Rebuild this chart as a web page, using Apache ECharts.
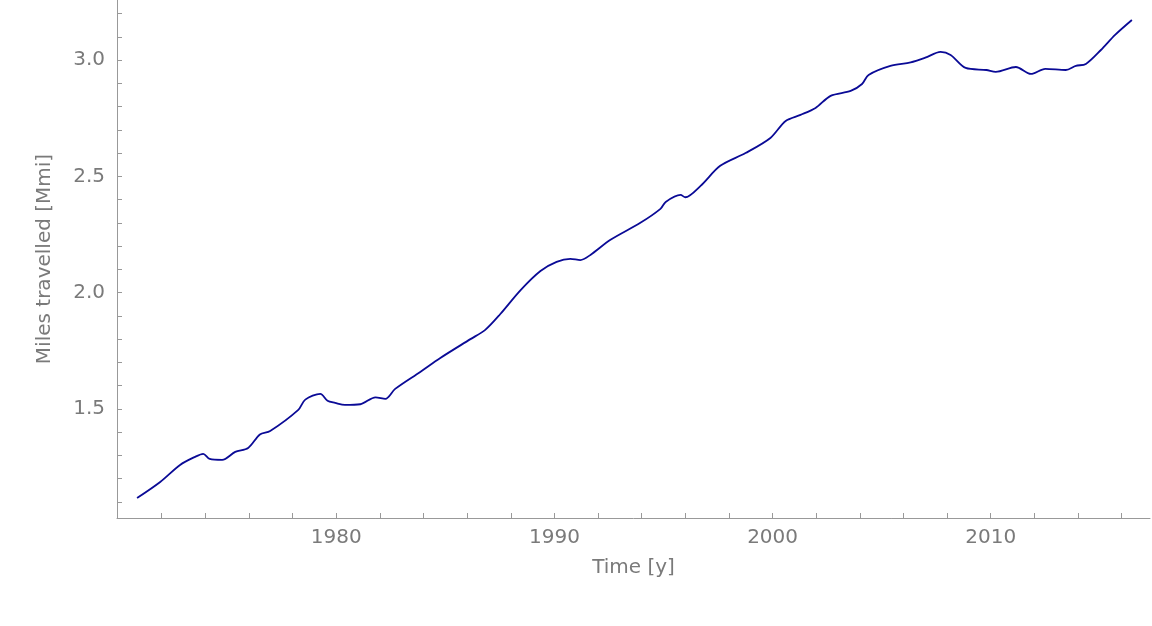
<!DOCTYPE html>
<html><head><meta charset="utf-8">
<script src="https://cdn.jsdelivr.net/npm/echarts@6/dist/echarts.min.js"></script>
<style>html,body{margin:0;padding:0;background:#fff}#c{width:1152px;height:626px}</style>
</head><body><div id="c"></div>
<script>
const years = [1970.87,1971.93,1972.84,1973.53,1973.9,1974.2,1974.77,1975.37,1975.96,1976.5,1976.97,1978.26,1978.58,1979.27,1979.6,1979.95,1980.4,1981.1,1981.8,1982.25,1982.7,1983.85,1984.77,1986.15,1986.83,1987.52,1988.44,1989.36,1990.1,1990.73,1991.19,1991.65,1992.57,1993.94,1994.86,1995.1,1995.78,1996.0,1996.7,1997.6,1998.76,1999.9,2000.6,2001.28,2001.97,2002.66,2003.58,2004.1,2004.4,2005.4,2006.33,2007.0,2007.7,2008.16,2008.85,2009.8,2010.23,2011.15,2011.84,2012.5,2013.44,2013.9,2014.36,2015.05,2015.7,2016.47];
const miles = [1.117,1.186,1.259,1.294,1.307,1.285,1.281,1.315,1.332,1.39,1.405,1.496,1.54,1.565,1.535,1.526,1.517,1.52,1.55,1.543,1.586,1.659,1.719,1.80,1.84,1.908,2.01,2.093,2.132,2.145,2.14,2.162,2.227,2.30,2.36,2.39,2.42,2.41,2.459,2.545,2.60,2.665,2.738,2.764,2.794,2.846,2.867,2.897,2.936,2.975,2.99,3.01,3.035,3.022,2.966,2.957,2.949,2.97,2.94,2.962,2.957,2.975,2.983,3.043,3.108,3.172];
const xLabels = [1980,1990,2000,2010];
const xTicks = [1972,1974,1976,1978,1980,1982,1984,1986,1988,1990,1992,1994,1996,1998,2000,2002,2004,2006,2008,2010,2012,2014,2016];
const yLabels = [1.5,2.0,2.5,3.0];
const yTicks = [1.1,1.2,1.3,1.4,1.5,1.6,1.7,1.8,1.9,2.0,2.1,2.2,2.3,2.4,2.5,2.6,2.7,2.8,2.9,3.0,3.1,3.2];
const gray='#7a7a7a', font='DejaVu Sans';
const ch = echarts.init(document.getElementById('c'));
ch.setOption({
  animation:false,
  grid:{left:117,right:2,top:0,bottom:108},
  xAxis:{type:'value',min:1969.95,max:2017.3,name:'Time [y]',nameLocation:'middle',nameGap:40,
    nameTextStyle:{color:gray,fontSize:20,fontFamily:font},
    axisLine:{lineStyle:{color:'#999'}},
    axisTick:{inside:true,length:5,lineStyle:{color:'#999'},customValues:xTicks},
    axisLabel:{color:gray,fontSize:20,fontFamily:font,margin:10,customValues:xLabels,formatter:v=>String(v)},
    splitLine:{show:false}},
  yAxis:{type:'value',min:1.031,max:3.258,name:'Miles travelled [Mmi]',nameLocation:'middle',nameGap:62,
    nameTextStyle:{color:gray,fontSize:20,fontFamily:font},
    axisLine:{show:true,lineStyle:{color:'#999'}},
    axisTick:{show:true,inside:true,length:5,lineStyle:{color:'#999'},customValues:yTicks},
    axisLabel:{color:gray,fontSize:20,fontFamily:font,margin:12,customValues:yLabels,formatter:v=>v.toFixed(1)},
    splitLine:{show:false}},
  series:[{type:'line',data:years.map((y,i)=>[y,miles[i]]),showSymbol:false,smooth:0.3,
    lineStyle:{color:'#0a0a96',width:1.8}}]
});
</script></body></html>
